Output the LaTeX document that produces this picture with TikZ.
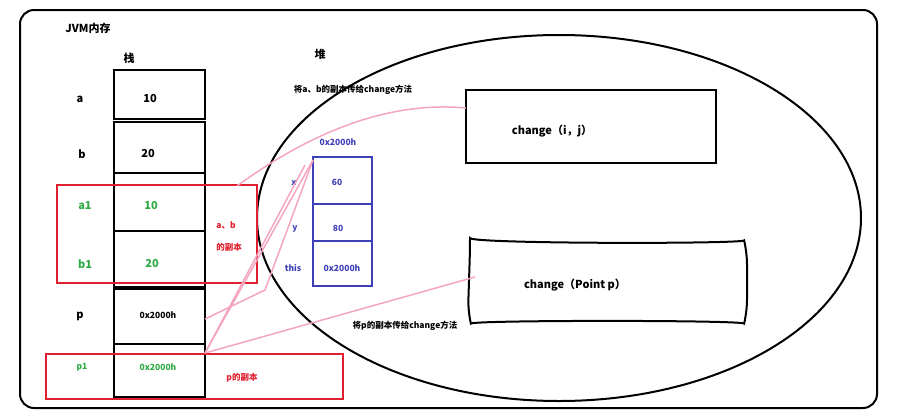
\documentclass[tikz,border=0pt]{standalone}
\usepackage{fontspec}
\setmainfont{Noto Sans CJK SC}
\usetikzlibrary{positioning}
\definecolor{REDBOX}{HTML}{E0202E}
\definecolor{GREENTXT}{HTML}{2EAA44}
\definecolor{BLUEOBJ}{HTML}{3E40B8}
\definecolor{PINKLINE}{HTML}{F4A6C0}
\tikzset{
	every node/.style = {font=\bfseries\fontsize{11}{12}\selectfont},
	small/.style = {font=\bfseries\fontsize{8.5}{10}\selectfont},
	cell/.style = {draw, line width=2pt},
	redbox/.style = {draw=REDBOX, line width=2pt},
	objcell/.style = {draw=BLUEOBJ, line width=2pt},
	pink/.style = {PINKLINE, line width=1.5pt}
}
\begin{document}
\begin{tikzpicture}[x=1pt, y=-1pt]
		\useasboundingbox (0,0) rectangle (897,413);
		% frame
		\draw[line width=2pt, rounded corners=14pt] (20,10) rectangle (877,408);
		\node (jvm) at (88,28) {JVM内存};
		\node (stk) at (129,58) {栈};
		\node (heap) at (320,54) {堆};
		% heap ellipse
		\draw[line width=2pt] (559,218) ellipse (302 and 183);
		% stack cells
		\draw[cell] (114,70) rectangle (205,119);
		\draw[cell] (114,122) rectangle (205,173);
		\draw[cell] (114,173) rectangle (205,231);
		\draw[cell] (114,231) rectangle (205,287);
		\draw[cell] (114,289) rectangle (205,344);
		\draw[cell] (114,344) rectangle (205,397);
		\node (na) at (80,99) {a};
		\node (nb) at (82,154) {b};
		\node[GREENTXT] (na1) at (85,206) {a1};
		\node[GREENTXT] (nb1) at (85,264) {b1};
		\node (np) at (80,316) {p};
		\node[small, GREENTXT] (np1) at (82,367) {p1};
		\node (va) at (150,99) {10};
		\node (vb) at (148,154) {20};
		\node[GREENTXT] (va1) at (151,206) {10};
		\node[GREENTXT] (vb1) at (152,264) {20};
		\node[small] (vp) at (158,315) {0x2000h};
		\node[small, GREENTXT] (vp1) at (158,367) {0x2000h};
		% copies
		\draw[redbox] (57,185) rectangle (257,283);
		\node[small, REDBOX] (ab) at (226,225) {a、b};
		\node[small, REDBOX] (abcopy) at (229,247) {的副本};
		\draw[redbox] (46,354) rectangle (343,399);
		\node[small, REDBOX] (pcopy) at (242,378) {p的副本};
		% object on heap
		\draw[objcell] (313,157) rectangle (372,204);
		\draw[objcell] (313,204) rectangle (372,241);
		\draw[objcell] (313,241) rectangle (372,286);
		\node[small, BLUEOBJ] (addr) at (338,142) {0x2000h};
		\node[small, BLUEOBJ] (fx) at (294,183) {x};
		\node[small, BLUEOBJ] (fy) at (295,229) {y};
		\node[small, BLUEOBJ] (fthis) at (293,268) {this};
		\node[small, BLUEOBJ] (vx) at (337,182) {60};
		\node[small, BLUEOBJ] (vy) at (338,228) {80};
		\node[small, BLUEOBJ] (vthis) at (342,268) {0x2000h};
		% methods
		\draw[line width=2pt] (466,90) rectangle (716,163);
		\node (mij) at (552,131) {change（i，j）};
		\draw[line width=2pt, rounded corners=12pt] (470,250) .. controls (470,244) and (745,244) .. (747,252) -- (747,312) .. controls (745,320) and (470,320) .. (468,312) -- cycle;
		\node (mp) at (575,285) {change（Point p）};
		\node[small] (passab) at (353,90) {将a、b的副本传给change方法};
		\node[small] (passp) at (405,326) {将p的副本传给change方法};
		% references
		\coordinate (abtop) at (237,186);
		\coordinate (mijin) at (466,108);
		\coordinate (pout) at (205,319);
		\coordinate (p1out) at (205,353);
		\coordinate (objin) at (313,160);
		\coordinate (mpin) at (475,277);
		\draw[pink] (abtop) .. controls (300,140) and (380,100) .. (mijin);
		\draw[pink] (pout) -- (265,290) -- (objin);
		\draw[pink] (p1out) -- (objin);
		\draw[pink] (p1out) -- (305,165);
		\draw[pink] (p1out) -- (mpin);
	\end{tikzpicture}
\end{document}
